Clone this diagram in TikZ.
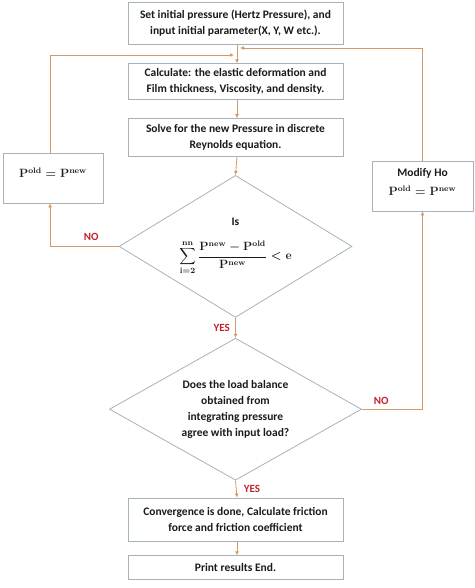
\documentclass[tikz,border=0pt]{standalone}
\usepackage{amsmath,amssymb}
\usepackage[no-math]{fontspec}
\setmainfont{Carlito}
\usepackage{tikz}
\usetikzlibrary{arrows.meta,positioning,shapes.geometric}
\definecolor{fcInk}{HTML}{1A1A1A}
\definecolor{fcLine}{HTML}{A6B2B8}
\definecolor{fcArrow}{HTML}{D49A6A}
\definecolor{fcRed}{HTML}{C0222E}
\newcommand{\bP}[1]{\mathbf{P}^{\mathbf{#1}}}
\tikzset{
    >=Latex,
    every picture/.style={font=\bfseries\fontsize{11.5}{16}\selectfont},
    flowbox/.style={draw=fcLine, line width=0.8pt, align=center, minimum width=215pt, text=fcInk, inner sep=2pt},
    sidebox/.style={draw=fcLine, line width=0.8pt, align=center, minimum width=100pt, minimum height=50pt, text=fcInk, inner sep=2pt, execute at begin node=\boldmath},
    decision/.style={draw=fcLine, line width=0.8pt, diamond, align=center, inner sep=0pt, text=fcInk, execute at begin node=\boldmath},
    flowarrow/.style={-{Latex[length=4pt,width=4pt]}, line width=0.8pt, draw=fcArrow},
    answer/.style={text=fcRed, font=\bfseries\fontsize{11}{12}\selectfont}
}
\begin{document}
\begin{tikzpicture}
\useasboundingbox (0,0) rectangle (474pt,-588pt);
\node[flowbox, minimum height=42pt] (init) at (235.5pt,-23pt) {Set initial pressure (Hertz Pressure), and\\input initial parameter(X, Y, W etc.).};
\node[flowbox, minimum height=36pt, below=19pt of init] (calc) {Calculate: the elastic deformation and\\Film thickness, Viscosity, and density.};
\node[flowbox, minimum height=38pt, below=18pt of calc] (solve) {Solve for the new Pressure in discrete\\Reynolds equation.};
\node[decision, minimum width=233pt, minimum height=142pt, aspect=1.64, below=18pt of solve] (conv) {Is\\[14pt]$\displaystyle\sum_{\mathbf{i=2}}^{\mathbf{nn}}\frac{\bP{new}-\bP{old}}{\bP{new}}<\mathbf{e}$};
\node[decision, minimum width=252pt, minimum height=142pt, aspect=1.77, below=20pt of conv] (load) {Does the load balance\\obtained from\\integrating pressure\\agree with input load?};
\node[flowbox, minimum height=43pt, below=17pt of load] (done) {Convergence is done, Calculate friction\\force and friction coefficient};
\node[flowbox, minimum height=24pt, below=14pt of done] (print) {Print results End.};
% side boxes of the two loops
\node[sidebox, text depth=10pt] (oldL) at (53pt,-178pt) {$\bP{old}=\bP{new}$};
\node[sidebox, minimum width=101pt, text depth=8pt] (modHo) at (422.5pt,-186pt) {Modify Ho\\[3pt]$\bP{old}=\bP{new}$};
\coordinate (mergeL) at (234pt,-55pt);
\coordinate (mergeR) at (240pt,-48pt);
\draw[flowarrow] ([xshift=1.5pt]init.south) -- ([xshift=1.5pt]calc.north);
\draw[flowarrow] ([xshift=1.5pt]calc.south) -- ([xshift=1.5pt]solve.north);
\draw[flowarrow] ([xshift=1.5pt]solve.south) -- (conv.north);
\draw[flowarrow] (conv.south) -- node[answer, left=2pt] {YES} (load.north);
\draw[flowarrow] (load.south) -- node[answer, right=4pt] {YES} ([xshift=1.5pt]done.north);
\draw[flowarrow] ([xshift=1.5pt]done.south) -- ([xshift=1.5pt]print.north);
\draw[flowarrow] (conv.west) -| node[answer, pos=0.2, above=2pt] {NO} ([xshift=-3pt]oldL.south);
\draw[flowarrow] ([xshift=-3pt]oldL.north) |- (mergeL);
\draw[flowarrow] (load.east) -| node[answer, pos=0.16, above=1pt] {NO} (modHo.south);
\draw[flowarrow] (modHo.north) |- (mergeR);
\end{tikzpicture}
\end{document}
